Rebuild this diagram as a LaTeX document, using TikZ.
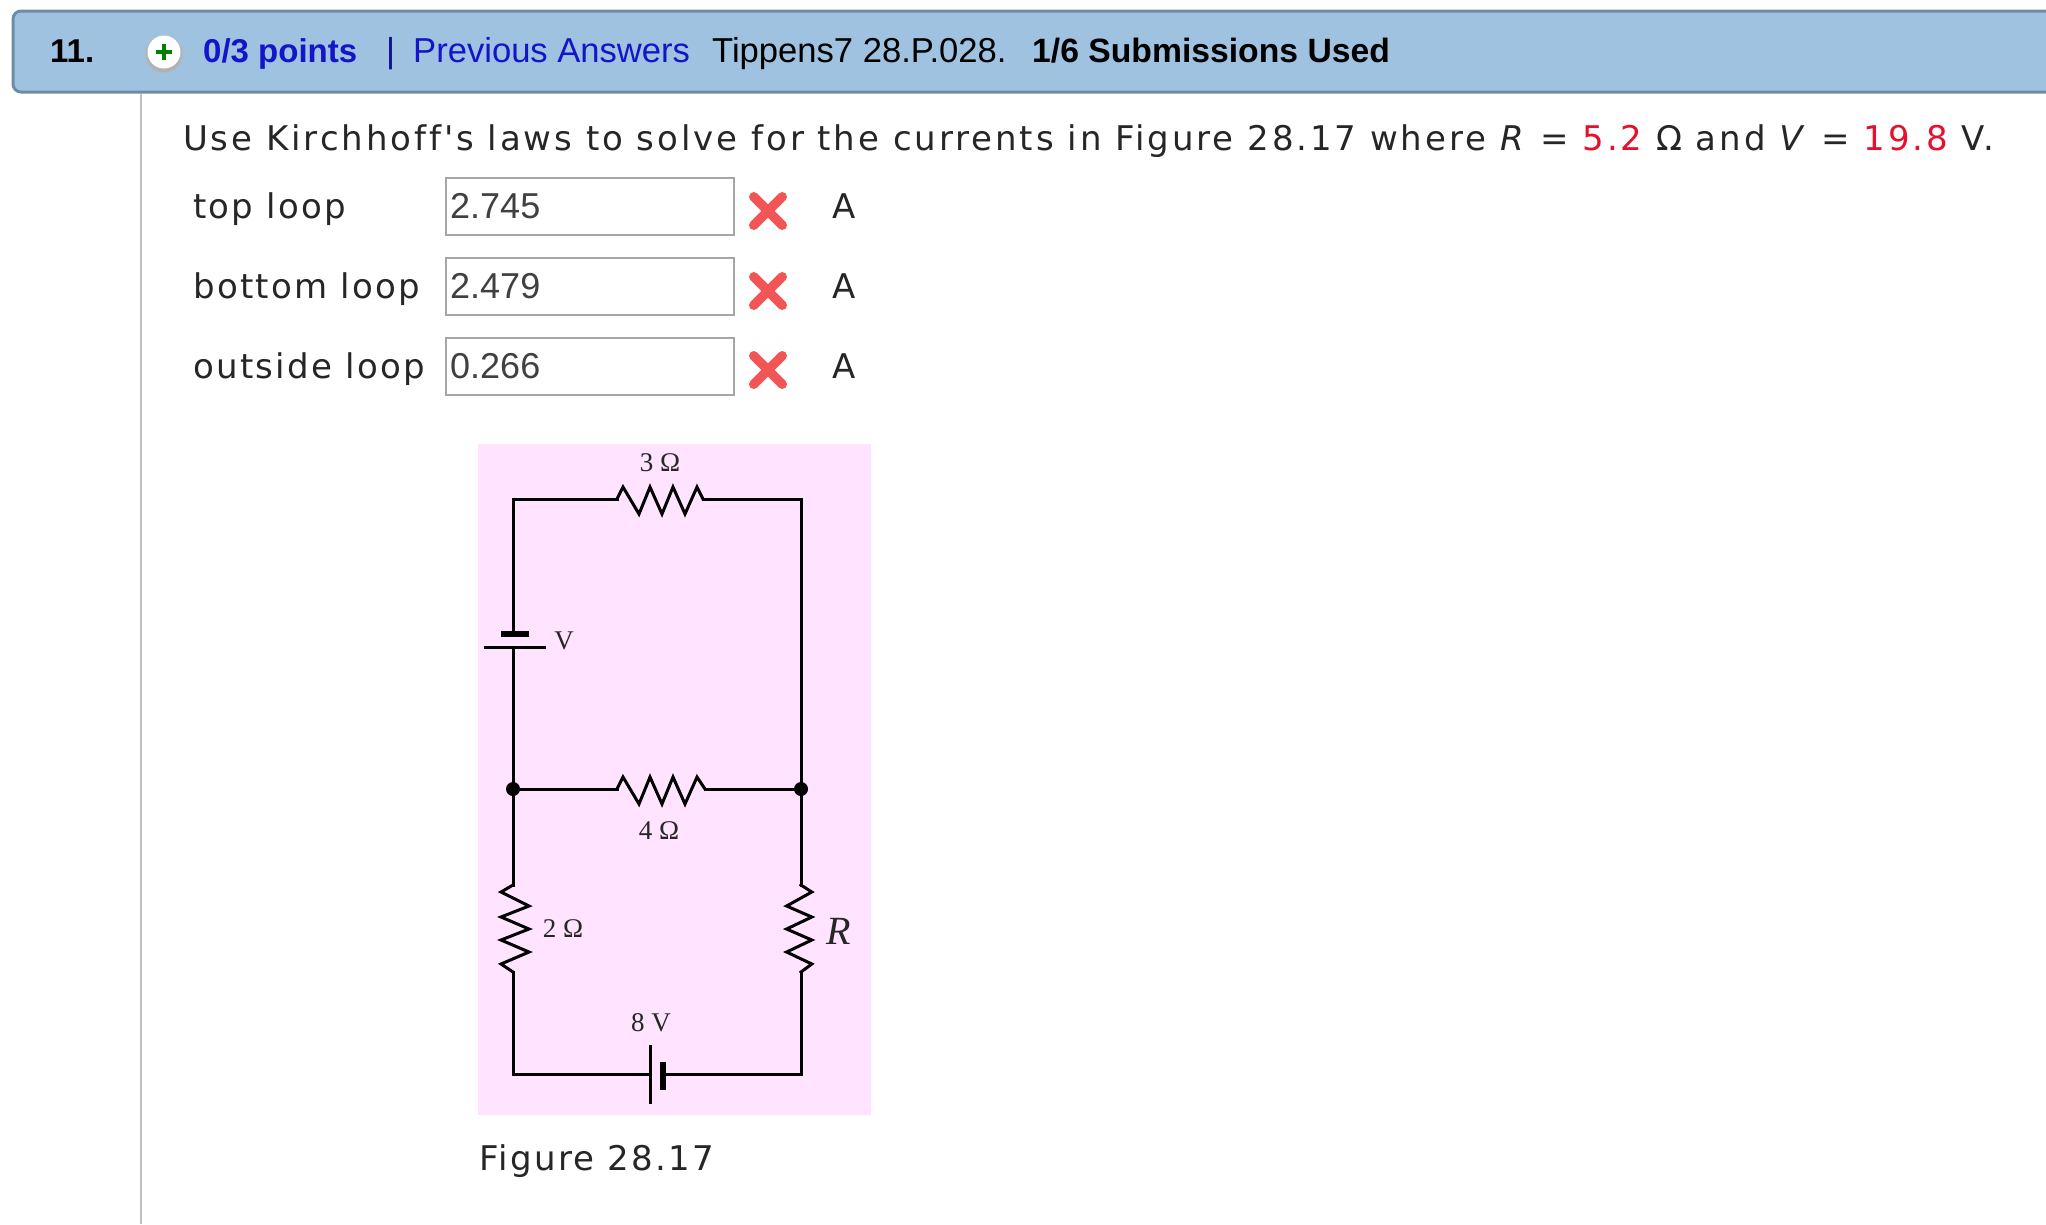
\documentclass[tikz,border=0pt]{standalone}
\usepackage{fontspec}
\setmainfont{Liberation Sans}
\newfontfamily\verdfont[LetterSpace=6.8,Ligatures=NoCommon]{DejaVu Sans}
\newfontfamily\questfont[LetterSpace=8.6,Ligatures=NoCommon]{DejaVu Sans}
\newfontfamily\timesfont{Liberation Serif}
\usetikzlibrary{shapes.misc}
\definecolor{headblue}{HTML}{9FC2E0}
\definecolor{headedge}{HTML}{6F8CA6}
\definecolor{linkblue}{HTML}{1414C8}
\definecolor{wrongred}{HTML}{F25555}
\definecolor{valred}{HTML}{E6102D}
\definecolor{figpink}{HTML}{FFE3FF}
\newcommand{\fsz}[1]{\fontsize{#1}{#1}\selectfont}

\begin{document}
\begin{tikzpicture}[x=1pt,y=-1pt,
    wire/.style={line width=3pt,line cap=rect,black},
    plate/.style={line width=3pt,black},
    thickplate/.style={line width=5.5pt,black},
    reshor/.style={to path={-- ++(6,-12) -- ++(16,27) -- ++(11,-27) -- ++(12,27) -- ++(11,-27) -- ++(12,27) -- ++(12,-27) -- (\tikztotarget)}},
    resver/.style={to path={-- ++({-12*#1},7) -- ++({28*#1},14) -- ++({-28*#1},11) -- ++({28*#1},12) -- ++({-28*#1},11) -- ++({28*#1},12) -- ++({-28*#1},12) -- (\tikztotarget)}},
    head/.style={anchor=base west,inner sep=0pt,font=\fsz{34.6}},
    headb/.style={anchor=base west,inner sep=0pt,font=\bfseries\fsz{33}},
    body/.style={anchor=base west,inner sep=0pt,font=\verdfont\fsz{34},text=black!85},
    ckt/.style={inner sep=0pt,font=\timesfont\fsz{27},text=black!85},
    inbox/.style={anchor=north west,draw=black!35,line width=2pt,fill=white,minimum width=288pt,minimum height=57pt,inner sep=0pt},
    inval/.style={anchor=base west,inner sep=0pt,font=\fsz{36},text=black!75},
    wrong/.style={draw=wrongred,cross out,line width=9.5pt,line cap=round,minimum size=19pt,inner sep=0pt},
    junction/.style={circle,fill=black,minimum size=14pt,inner sep=0pt}]
    \useasboundingbox (0,0) rectangle (2046,1224);

    % header bar
    \draw[fill=headblue,draw=headedge,line width=3pt,rounded corners=8pt] (2046,11) -- (13,11) -- (13,92) -- (2046,92);
    \draw[black!25,line width=2pt] (141,94) -- (141,1224);

    \node[headb] (num) at (50,62) {11.};
    \node[circle,fill=black!30,minimum size=37pt,inner sep=0pt] (plusshadow) at (164,54) {};
    \node[circle,fill=white,minimum size=33pt,inner sep=0pt] (plusicon) at (164,52) {};
    \draw[line width=4.5pt,green!50!black] ([xshift=-8pt]plusicon.center) -- ([xshift=8pt]plusicon.center);
    \draw[line width=4.5pt,green!50!black] ([yshift=-8pt]plusicon.center) -- ([yshift=8pt]plusicon.center);
    \node[headb,text=linkblue] (points) at (203,62) {0/3 points};
    \node[head,text=linkblue!70!black] (sep) at (386,62) {|};
    \node[head,text=linkblue] (prev) at (413,62) {Previous Answers};
    \node[head] (tip) at (712,62) {Tippens7 28.P.028.};
    \node[headb,font=\bfseries\fsz{33.7}] (subs) at (1032,62) {1/6 Submissions Used};

    % question
    \node[body,font=\questfont\fsz{34}] (quest) at (183,150) {Use Kirchhoff's laws to solve for the currents in Figure 28.17 where \textit{R} = \textcolor{valred}{5.2} Ω and \textit{V} = \textcolor{valred}{19.8} V.};

    \node[body] (toplab) at (193,218) {top loop};
    \node[inbox] (topbox) at (445,177) {};
    \node[inval] (topval) at (450,218) {2.745};
    \node[wrong] (topx) at (768,211) {};
    \node[body] (topa) at (832,218) {A};

    \node[body] (botlab) at (193,298) {bottom loop};
    \node[inbox] (botbox) at (445,257) {};
    \node[inval] (botval) at (450,298) {2.479};
    \node[wrong] (botx) at (768,291) {};
    \node[body] (bota) at (832,298) {A};

    \node[body] (outlab) at (193,378) {outside loop};
    \node[inbox] (outbox) at (445,337) {};
    \node[inval] (outval) at (450,378) {0.266};
    \node[wrong] (outx) at (768,370) {};
    \node[body] (outa) at (832,378) {A};

    % figure
    \fill[figpink] (478,444) rectangle (871,1115);

    \coordinate (tl) at (513,499);
    \coordinate (tr) at (801,499);
    \coordinate (bl) at (513,1074);
    \coordinate (br) at (801,1074);
    \node[junction] (ml) at (513,789) {};
    \node[junction] (mr) at (801,789) {};

    \coordinate (r3a) at (617,499);
    \coordinate (r3b) at (703,499);
    \coordinate (r4a) at (617,789);
    \coordinate (r4b) at (705,789);
    \coordinate (r2a) at (513,885);
    \coordinate (r2b) at (513,972);
    \coordinate (rra) at (801,885);
    \coordinate (rrb) at (801,972);

    \coordinate (va) at (513,634);
    \coordinate (vb) at (513,647);
    \coordinate (va1) at (501,634);
    \coordinate (va2) at (529,634);
    \coordinate (vb1) at (484,647);
    \coordinate (vb2) at (546,647);

    \coordinate (ea) at (650,1074);
    \coordinate (eb) at (663,1074);
    \coordinate (ea1) at (650,1045);
    \coordinate (ea2) at (650,1104);
    \coordinate (eb1) at (663,1062);
    \coordinate (eb2) at (663,1090);

    \path[wire]
        (tl) edge (r3a)
        (r3a) edge[reshor] (r3b)
        (r3b) edge (tr)
        (tl) edge (va)
        (vb) edge (ml)
        (ml) edge (r4a)
        (r4a) edge[reshor] (r4b)
        (r4b) edge (mr)
        (tr) edge (mr)
        (ml) edge (r2a)
        (r2a) edge[resver=1] (r2b)
        (r2b) edge (bl)
        (mr) edge (rra)
        (rra) edge[resver=-0.9] (rrb)
        (rrb) edge (br)
        (bl) edge (ea)
        (eb) edge (br)
        ;
    \path[plate]
        (vb1) edge (vb2)
        (ea1) edge (ea2)
        ;
    \path[thickplate]
        (va1) edge (va2)
        (eb1) edge (eb2)
        ;

    \node[ckt] (lab3) at (660,463) {3 Ω};
    \node[ckt] (lab4) at (659,831) {4 Ω};
    \node[ckt] (lab2) at (563,929) {2 Ω};
    \node[ckt] (labv) at (564,641) {V};
    \node[ckt] (lab8) at (651,1023) {8 V};
    \node[ckt,font=\timesfont\itshape\fsz{40}] (labr) at (839,931) {R};

    \node[body] (caption) at (479,1170) {Figure 28.17};
\end{tikzpicture}
\end{document}
